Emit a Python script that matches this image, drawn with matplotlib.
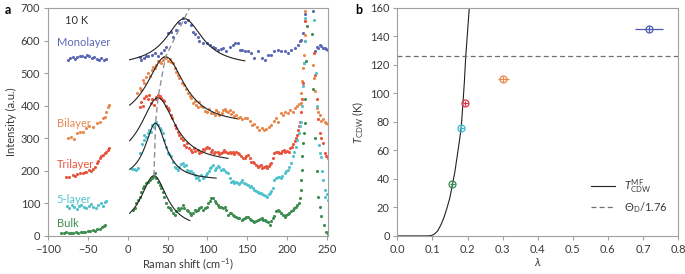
import matplotlib
matplotlib.use("Agg")
import matplotlib.pyplot as plt
import numpy as np

# ---- panel a: Raman spectra ----
mono_x = [-75, -72, -69, -66, -63, -60, -57, -54, -51, -48, -45, -42, -39, -36, -33, -30, -27,
          15, 17, 20, 23, 26, 30, 34, 38, 42, 45, 48, 51, 55, 57, 61, 65, 69, 72, 76, 80, 82, 85,
          88, 90, 95, 99, 103, 107, 110, 113, 117, 120, 124, 128, 132, 135, 138, 141, 143, 147,
          151, 155, 159, 163, 168, 172, 176, 180, 184, 189, 193, 197, 201, 205, 210, 214, 216,
          218, 220, 222, 224, 232, 234.5, 237, 239, 241, 243, 245, 247, 249, 251]
mono_y = [540, 545, 548, 544, 550, 552, 553, 549, 555, 551, 546, 548, 544, 541, 546, 540, 543,
          548, 540, 546, 551, 553, 556, 561, 551, 561, 570, 581, 622, 627, 612, 632, 653, 668, 658,
          663, 648, 627, 620, 612, 597, 592, 592, 585, 581, 576, 571, 573, 576, 567, 581, 586, 593,
          592, 571, 572, 567, 567, 562, 546, 567, 546, 541, 557, 557, 567, 572, 567, 567, 562, 572,
          577, 587, 598, 603, 623, 680, 740, 690, 567, 580, 577, 585, 582, 578, 577, 575, 572]

bi_x = [-75, -71, -67, -64, -60, -56, -52, -48, -44, -39, -35, -31, -29, -27, -25, -23,
        12, 15, 17, 19, 21, 23, 25, 28, 30, 32, 34, 36, 38, 40, 42, 44, 46, 48, 50, 53, 55, 57,
        59, 61, 63, 65, 68, 71, 73, 76, 78, 80, 82, 84, 86, 88, 90, 92, 95, 97, 99, 102, 105,
        107, 109, 111, 113, 115, 118, 120, 122, 124, 126, 128, 130, 132, 134, 136, 138, 141,
        144, 147, 150, 153, 156, 159, 162, 165, 168, 171, 174, 177, 180, 183, 186, 189, 192,
        195, 198, 201, 204, 207, 210, 213, 215, 217, 218, 219, 220, 221, 222, 222.5, 223, 224,
        231, 232.5, 234, 235, 237, 239, 241, 243, 245, 247, 249, 251]
bi_y = [300, 305, 298, 315, 320, 318, 330, 336, 333, 346, 351, 361, 366, 382, 397, 402,
        440, 453, 449, 478, 470, 489, 499, 492, 510, 520, 515, 525, 538, 535, 530, 540, 548, 546,
        538, 542, 535, 530, 515, 504, 495, 484, 470, 463, 450, 438, 430, 422, 407, 415, 402, 395,
        412, 400, 397, 385, 381, 390, 378, 376, 372, 386, 380, 371, 378, 388, 391, 383, 380, 386,
        375, 381, 368, 371, 362, 366, 358, 363, 361, 352, 341, 345, 333, 326, 330, 324, 328, 335,
        341, 352, 362, 351, 378, 370, 380, 378, 386, 382, 393, 398, 404, 408, 440, 476, 516, 557,
        618, 660, 690, 740, 720, 526, 485, 444, 393, 380, 372, 352, 360, 351, 348, 345]

tri_x = [-77, -73, -69, -66, -64, -60, -56, -54, -52, -48, -46, -44, -41, -39, -37, -35, -33,
         -31, -29, -27, -25, -23,
         15, 17, 19, 21, 23, 25, 27, 29, 31, 33, 35, 36, 38, 40, 42, 44, 46, 48, 50, 52, 54, 56,
         59, 61, 63, 65, 67, 69, 71, 73, 75, 77, 79, 81, 83, 85, 88, 90, 92, 94, 96, 98, 100,
         102, 104, 106, 108, 110, 113, 115, 117, 119, 121, 124, 126, 128, 130, 132, 134, 136,
         138, 140, 142, 145, 147, 149, 151, 153, 155, 157, 159, 161, 163, 165, 167, 169, 171,
         173, 175, 177, 179, 180, 182, 184, 186, 188, 190, 192, 194, 196, 198, 200, 202, 204,
         206, 208, 209.5, 211, 212, 213.5, 215, 216.5, 218, 219, 220, 221, 222, 223, 224,
         232, 234, 235, 237, 239, 241, 243, 245, 247, 249, 251]
tri_y = [182, 182, 187, 184, 190, 192, 192, 195, 197, 202, 199, 205, 212, 223, 230, 238, 244,
         249, 255, 259, 263, 269,
         395, 410, 400, 424, 429, 419, 434, 408, 419, 403, 420, 426, 434, 429, 424, 418, 413, 398,
         393, 388, 372, 362, 341, 331, 320, 310, 300, 295, 279, 274, 285, 269, 264, 259, 269, 262,
         264, 255, 259, 266, 264, 270, 274, 269, 259, 264, 254, 258, 259, 250, 254, 257, 264, 259,
         254, 258, 254, 259, 252, 259, 254, 250, 244, 239, 240, 246, 249, 238, 228, 226, 223, 218,
         213, 216, 218, 210, 213, 215, 208, 214, 220, 223, 240, 254, 258, 259, 255, 254, 261, 264,
         258, 262, 259, 270, 274, 282, 290, 302, 310, 325, 336, 351, 380, 420, 470, 530, 600, 660,
         730, 720, 562, 495, 420, 360, 315, 300, 284, 254, 245, 240]

five_x = [-76, -73, -70, -67, -64, -61, -58, -55, -52, -49, -46, -43, -40, -37, -34, -31, -29, -27,
          5, 8, 10, 13, 16, 18, 20, 21, 23, 25, 27, 29, 31, 33, 34, 36, 38, 40, 42, 44, 46, 48, 50,
          52, 55, 57, 59, 61, 63, 65, 67, 69, 71, 73, 75, 77, 80, 82, 84, 86, 88, 90, 92, 94, 96,
          98, 100, 102, 103, 105, 107, 109, 111, 113, 115, 117, 119, 121, 124, 126, 128, 130, 132,
          134, 136, 138, 140, 142, 144, 146, 149, 151, 153, 155, 157, 159, 161, 163, 165, 167, 169,
          171, 173, 175, 177, 178, 180, 182, 184, 186, 188, 190, 192, 194, 197, 199, 201, 203, 205,
          207, 209, 211, 213, 214.5, 216, 218, 219, 220, 221, 222, 223, 224,
          232, 234, 236, 238, 240, 241, 242, 244, 245, 247, 248, 250, 251]
five_y = [92, 86, 95, 89, 84, 92, 96, 88, 85, 93, 98, 90, 86, 95, 100, 92, 104, 106,
          205, 205, 201, 210, 254, 283, 295, 310, 305, 315, 326, 320, 341, 335, 346, 351, 341, 330,
          326, 315, 295, 274, 254, 250, 244, 228, 213, 210, 203, 213, 220, 223, 215, 218, 203, 200,
          198, 192, 187, 177, 182, 172, 187, 177, 182, 188, 192, 200, 208, 213, 218, 203, 208, 215,
          213, 203, 206, 203, 197, 192, 177, 167, 170, 162, 165, 162, 160, 167, 172, 162, 160, 157,
          150, 152, 146, 141, 139, 136, 133, 131, 129, 126, 124, 121, 128, 131, 138, 146, 172, 177,
          182, 180, 177, 185, 192, 198, 203, 213, 223, 244, 259, 274, 295, 315, 336, 351, 400, 460,
          530, 600, 670, 740, 720, 664, 500, 400, 280, 255, 243, 200, 172, 140, 121, 128, 110]

bulk_x = [-83, -80, -77, -74, -71, -68, -65, -62, -59, -56, -53, -50, -47, -44, -41, -38, -35,
          -32, -30, -28,
          7, 9, 11, 13, 15, 17, 19, 21, 23, 25, 28, 30, 32, 34, 36, 38, 40, 42, 44, 46, 48, 51, 53,
          55, 57, 59, 61, 63, 65, 67, 69, 71, 74, 76, 78, 80, 82, 84, 86, 88, 90, 92, 94, 97, 99,
          101, 103, 105, 107, 109, 111, 113, 115, 117, 120, 122, 124, 126, 128, 130, 132, 134, 136,
          138, 140, 143, 145, 147, 149, 151, 153, 155, 157, 159, 161, 164, 166, 168, 170, 172, 174,
          176, 178, 180, 182, 184, 186, 188, 190, 193, 195, 197, 199, 201, 203, 205, 207, 209, 211,
          213, 214.5, 216, 217, 218, 218.7, 219.1, 220, 220.8, 222, 223, 224, 225, 226,
          231, 233, 235, 237, 239, 241, 243, 246, 249, 251]
bulk_y = [10, 8, 11, 9, 8, 10, 12, 9, 11, 13, 12, 15, 14, 17, 16, 20, 22, 26, 30, 34,
          80, 85, 100, 111, 121, 136, 146, 152, 162, 167, 172, 177, 182, 192, 177, 167, 157, 146,
          136, 121, 100, 90, 85, 80, 70, 65, 75, 85, 80, 85, 95, 85, 80, 75, 70, 65, 70, 80, 75, 80,
          85, 90, 80, 85, 90, 100, 106, 116, 116, 106, 100, 95, 90, 90, 85, 90, 80, 65, 70, 70, 65,
          60, 59, 55, 54, 49, 52, 54, 57, 59, 52, 49, 46, 44, 47, 49, 52, 54, 50, 49, 46, 44, 34,
          45, 54, 62, 75, 80, 76, 70, 64, 59, 65, 68, 70, 75, 80, 85, 90, 95, 100, 116, 141, 172,
          203, 244, 285, 315, 346, 420, 536, 644, 740, 620, 450, 300, 200, 120, 90, 60, 35, 12, 5]

layer_names = ["Monolayer", "Bilayer", "Trilayer", "5-layer", "Bulk"]
layer_colors = ["#5a67b3", "#e8884c", "#e8543c", "#4fc2cc", "#3d8c50"]
label_y = [595, 346, 220, 113, 37]

# Lorentzian fits: centre, half-width, amplitude, baseline, x range
fit_center = [71, 47.5, 38, 35, 33]
fit_width = [28, 29, 26, 16, 20]
fit_amp = [147, 210, 202, 176, 165]
fit_base = [520, 340, 222, 170, 20]
fit_end = [147, 137, 126, 111, 78]
fit_start = 2.5

# ---- panel b ----
lam = [0.718, 0.302, 0.194, 0.182, 0.157]
lam_err = [0.04, 0.015, 0.008, 0.007, 0.007]
tcdw = [145, 110, 93, 76, 36.5]
tcdw_err = [2, 2, 2, 2, 2]
b_colors = ["#4a5ab0", "#e8884c", "#e0344a", "#3ab8cc", "#3a8a58"]
mf_lam = [0.0, 0.085, 0.095, 0.104, 0.115, 0.1245, 0.133, 0.1415, 0.150, 0.157, 0.164,
          0.170, 0.176, 0.182, 0.187, 0.191, 0.195, 0.200, 0.205]
mf_t = [0, 0, 0.2, 0.9, 3.5, 7.9, 13, 19.6, 27, 36, 45, 55, 65, 76, 93, 108, 126, 143, 160]
theta_d = 126

plt.rcParams['font.family'] = ['Lato', 'DejaVu Sans']
plt.rcParams['mathtext.fontset'] = 'custom'
plt.rcParams['mathtext.rm'] = 'Lato'
plt.rcParams['mathtext.it'] = 'Lato:italic'
plt.rcParams['font.size'] = 8

fig = plt.figure(figsize=(6.85, 2.74), dpi=100)
ax_a = fig.add_axes([0.070, 0.139, 0.409, 0.832])
ax_b = fig.add_axes([0.580, 0.139, 0.410, 0.832])

for ax in (ax_a, ax_b):
    for s in ax.spines.values():
        s.set_color("#a0a0a0")
        s.set_linewidth(0.8)
    ax.tick_params(direction="out", length=3, width=0.8, color="#a0a0a0",
                   labelcolor="#3a3a3a", labelsize=8, pad=2.5)

series = [(mono_x, mono_y), (bi_x, bi_y), (tri_x, tri_y), (five_x, five_y), (bulk_x, bulk_y)]
for (xs, ys), c in zip(series, layer_colors):
    ax_a.scatter(xs, ys, s=5, color=c, linewidths=0, zorder=2)

for i in range(5):
    xf = np.linspace(fit_start, fit_end[i], 200)
    yf = fit_base[i] + fit_amp[i] / (1 + ((xf - fit_center[i]) / fit_width[i]) ** 2)
    ax_a.plot(xf, yf, color="#222222", lw=0.8, zorder=3)

# dashed line through peak positions, extended upward
pk_x = list(fit_center[::-1])
pk_y = [fit_base[i] + fit_amp[i] for i in range(5)][::-1]
slope = (pk_x[-1] - pk_x[-2]) / (pk_y[-1] - pk_y[-2])
pk_x.append(pk_x[-1] + slope * (720 - pk_y[-1]))
pk_y.append(720)
ax_a.plot(pk_x, pk_y, color="#909090", lw=1.0, ls=(0, (4, 2.5)), zorder=4)

for name, c, yl in zip(layer_names, layer_colors, label_y):
    ax_a.text(-89, yl, name, color=c, fontsize=8, va="center", ha="left")
ax_a.text(-79, 660, "10 K", color="#333333", fontsize=8, va="center")

ax_a.set_xlim(-100, 251.5)
ax_a.set_ylim(0, 700)
ax_a.set_xticks(np.arange(-100, 251, 50))
ax_a.set_yticks(np.arange(0, 701, 100))
ax_a.set_xticklabels(["\u2212100", "\u221250", "0", "50", "100", "150", "200", "250"])
ax_a.set_xlabel("Raman shift (cm$^{-1}$)", color="#3a3a3a", fontsize=8, labelpad=1)
ax_a.set_ylabel("Intensity (a.u.)", color="#3a3a3a", fontsize=8, labelpad=3)

# panel b
ax_b.plot(mf_lam, mf_t, color="#222222", lw=0.8, label=r"$T^{\mathrm{MF}}_{\mathrm{CDW}}$")
ax_b.axhline(theta_d, color="#707070", lw=0.9, ls=(0, (4, 2.5)), label=r"$\Theta_{\mathrm{D}}$/1.76")
for l, le, t, te, c in zip(lam, lam_err, tcdw, tcdw_err, b_colors):
    ax_b.errorbar(l, t, xerr=le, yerr=te, fmt="o", ms=5, mfc="none", mec=c, mew=0.9,
                  ecolor=c, elinewidth=0.9, capsize=0, zorder=5)
ax_b.set_xlim(0, 0.8)
ax_b.set_ylim(0, 160)
ax_b.set_xticks(np.arange(0, 0.81, 0.1))
ax_b.set_yticks(np.arange(0, 161, 20))
ax_b.set_xticklabels(["%.1f" % v for v in np.arange(0, 0.81, 0.1)])
ax_b.set_xlabel(r"$\lambda$", color="#3a3a3a", fontsize=8.5, labelpad=1)
ax_b.set_ylabel(r"$T_{\mathrm{CDW}}$ (K)", color="#3a3a3a", fontsize=8, labelpad=3)
leg = ax_b.legend(loc="lower right", frameon=False, fontsize=8, handlelength=2.2,
                  labelspacing=0.4, bbox_to_anchor=(1.0, 0.05))
for t in leg.get_texts():
    t.set_color("#3a3a3a")

fig.text(0.007, 0.965, "a", fontsize=9, fontweight="bold", va="center")
fig.text(0.518, 0.965, "b", fontsize=9, fontweight="bold", va="center")

fig.savefig("out.png", dpi=100)
